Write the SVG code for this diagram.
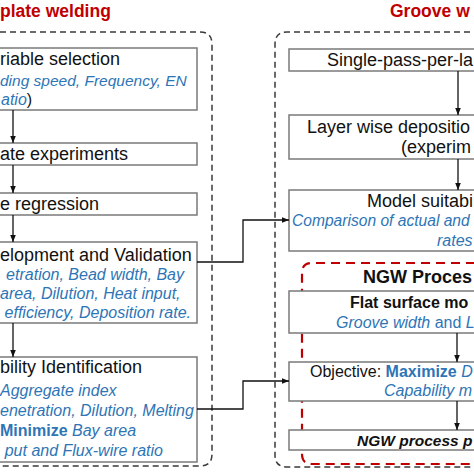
<svg xmlns="http://www.w3.org/2000/svg" width="474" height="474" viewBox="0 0 474 474">
<style>
text{font-family:"Liberation Sans",Arial,sans-serif;fill:#111}
.t{font-size:18px}
.s{font-size:16px}
.h{font-size:17.5px;font-weight:bold;fill:#c00000}
.b{fill:#2e75b6;font-style:italic}
.bb{fill:#2e75b6;font-weight:bold;font-style:normal}
.bu{fill:#2e75b6;font-style:normal}
.box{fill:#fff;stroke:#7a7a7a;stroke-width:1.5}
.cont{fill:none;stroke:#3a3a3a;stroke-width:1.5;stroke-dasharray:6 4}
.red{fill:none;stroke:#c00000;stroke-width:2.2;stroke-dasharray:9 6}
.c{fill:none;stroke:#111;stroke-width:1.3}
</style>
<defs>
<marker id="ah" viewBox="0 0 10 10" refX="10" refY="5" markerWidth="7" markerHeight="7" markerUnits="userSpaceOnUse" orient="auto">
<path d="M0,1 L10,5 L0,9 z" fill="#111"/>
</marker>
</defs>
<rect width="474" height="474" fill="#fff"/>

<g id="titles">
<text class="h" x="0" y="17">plate welding</text>
<text class="h" x="390" y="17">Groove w</text>
</g>

<g id="containers">
<path class="cont" d="M-20,32 H200 Q212,32 212,44 V454 Q212,466 200,466 H-20"/>
<path class="cont" d="M490,32 H287 Q275,32 275,44 V455 Q275,467 287,467 H490"/>
<path class="red" d="M490,263 H312 Q302,263 302,273 V454 Q302,464 312,464 H490"/>
</g>

<g id="left-1">
<rect class="box" x="-10" y="48" width="207" height="62"/>
<text class="t" x="0" y="65">riable selection</text>
<text class="b" x="0" y="86" font-size="15.5">ding speed, Frequency, EN</text>
<text class="s" x="1" y="105"><tspan class="b">atio</tspan>)</text>
</g>
<g id="left-2">
<rect class="box" x="-10" y="143" width="207" height="22"/>
<text class="t" x="0" y="160">ate experiments</text>
</g>
<g id="left-3">
<rect class="box" x="-10" y="193" width="207" height="22"/>
<text class="t" x="0" y="210">e regression</text>
</g>
<g id="left-4">
<rect class="box" x="-10" y="242" width="207" height="81"/>
<text class="t" x="0" y="261">elopment and Validation</text>
<text class="s b" x="184" y="280" text-anchor="end">etration, Bead width, Bay</text>
<text class="s b" x="0" y="299">area, Dilution, Heat input,</text>
<text class="s b" x="191" y="318" text-anchor="end">efficiency, Deposition rate.</text>
</g>
<g id="left-5">
<rect class="box" x="-10" y="357" width="207" height="105"/>
<text class="t" x="0" y="373">bility Identification</text>
<text class="s b" x="0" y="396">Aggregate index</text>
<text class="s b" x="0" y="416">enetration, Dilution, Melting</text>
<text class="s" x="0" y="436"><tspan class="bb">Minimize</tspan><tspan class="b"> Bay area</tspan></text>
<text class="s b" x="163" y="456" text-anchor="end">put and Flux-wire ratio</text>
</g>

<g id="right-1">
<rect class="box" x="289" y="49" width="200" height="22"/>
<text class="t" x="327" y="66">Single-pass-per-la</text>
</g>
<g id="right-2">
<rect class="box" x="289" y="115" width="200" height="44"/>
<text class="t" x="307" y="133">Layer wise depositio</text>
<text class="t" x="401" y="153">(experim</text>
</g>
<g id="right-3">
<rect class="box" x="289" y="190" width="200" height="61"/>
<text class="t" x="367" y="207">Model suitabi</text>
<text class="b" x="292" y="226" font-size="15.6">Comparison of actual and</text>
<text class="s b" x="437" y="246">rates</text>
</g>
<g id="ngw-title">
<text class="t" x="363" y="283" font-weight="bold">NGW Proces</text>
</g>
<g id="right-4">
<rect class="box" x="289" y="291" width="200" height="42"/>
<text class="s" x="350" y="308" font-weight="bold">Flat surface mo</text>
<text class="s" x="336" y="328"><tspan class="b">Groove width</tspan><tspan class="bu"> and </tspan><tspan class="b">L</tspan></text>
</g>
<g id="right-5">
<rect class="box" x="289" y="362" width="200" height="39"/>
<text class="s" x="310" y="377">Objective: <tspan class="bb">Maximize</tspan><tspan class="b"> D</tspan></text>
<text class="s b" x="384" y="396">Capability m</text>
</g>
<g id="right-6">
<rect class="box" x="289" y="430" width="200" height="20"/>
<text x="357" y="446" font-size="15.5" font-weight="bold" font-style="italic">NGW process p</text>
</g>

<g id="connectors">
<line class="c" x1="13" y1="110" x2="13" y2="143" marker-end="url(#ah)"/>
<line class="c" x1="13" y1="165" x2="13" y2="193" marker-end="url(#ah)"/>
<line class="c" x1="13" y1="215" x2="13" y2="242" marker-end="url(#ah)"/>
<line class="c" x1="13" y1="323" x2="13" y2="357" marker-end="url(#ah)"/>
<line class="c" x1="458" y1="71" x2="458" y2="115" marker-end="url(#ah)"/>
<line class="c" x1="458" y1="159" x2="458" y2="190" marker-end="url(#ah)"/>
<line class="c" x1="457" y1="333" x2="457" y2="362" marker-end="url(#ah)"/>
<line class="c" x1="457" y1="401" x2="457" y2="430" marker-end="url(#ah)"/>
<path class="c" d="M197,262 H243 V220 H289" marker-end="url(#ah)"/>
<path class="c" d="M197,409 H243 V381 H289" marker-end="url(#ah)"/>
</g>
</svg>
